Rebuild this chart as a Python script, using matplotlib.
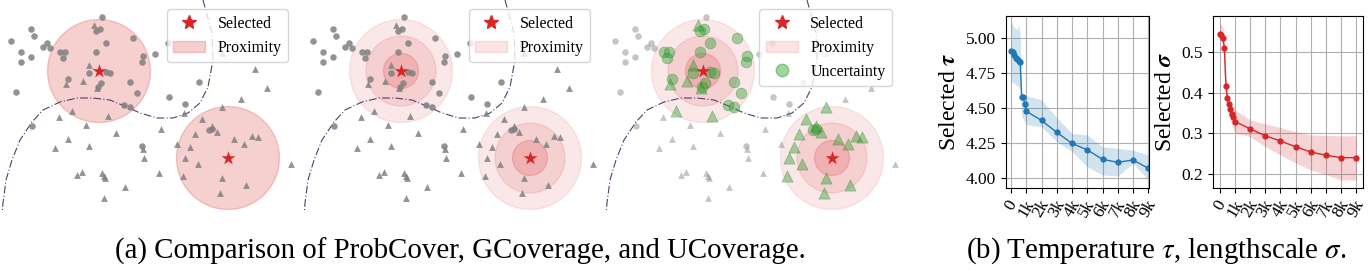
import numpy as np
import matplotlib
matplotlib.use("Agg")
import matplotlib.pyplot as plt
from matplotlib.patches import Circle, Patch
from matplotlib.lines import Line2D

plt.rcParams['font.family'] = ['Liberation Serif', 'DejaVu Serif']
plt.rcParams['mathtext.fontset'] = 'stix'

# toy 2D data (pixel-like coords, y grows downward)
circ_x = [102, 31, 34, 11, 21, 21, 31, 43, 47, 50, 60, 65, 63, 100, 96, 106, 96, 133, 143, 142,
          155, 168, 89, 106, 110, 101, 98, 68, 130, 137, 16, 124, 130, 169, 185, 199, 32, 142, 209, 212]
circ_y = [17, 29, 36, 41, 52, 62, 57, 47, 43, 48, 52, 52, 58, 29, 31, 43, 52, 38, 56, 62,
          54, 43, 73, 72, 73, 83, 87, 79, 82, 93, 92, 105, 107, 97, 104, 82, 126, 146, 130, 129]
tri_x = [89, 94, 66, 83, 59, 72, 86, 108, 116, 68, 55, 89, 77, 82, 102, 104, 105, 125, 104, 144,
         143, 159, 161, 177, 184, 222, 241, 255, 267, 222, 202, 195, 190, 185, 198, 183, 220, 222,
         234, 244, 252, 258, 246, 291, 212, 217, 97]
tri_y = [65, 25, 84, 81, 117, 111, 125, 116, 133, 139, 148, 146, 175, 172, 173, 176, 178, 187, 198, 158,
         149, 173, 129, 144, 113, 107, 99, 69, 88, 53, 119, 134, 147, 158, 164, 176, 193, 178,
         139, 144, 136, 137, 185, 164, 126, 132, 88]

sel_x = [99, 228]
sel_y = [71, 158]
radii = [51.5, 35, 17.5]

bound_x = [203, 212, 213, 208, 200, 188, 173, 157, 140, 127, 110, 93, 77, 60, 43, 32, 20, 12, 6, 3, 2]
bound_y = [0, 33, 60, 87, 103, 113, 118, 118, 113, 107, 100, 98, 98, 102, 110, 122, 140, 160, 180, 203, 215]

# hyperparameter curves
steps = [0, 100, 200, 300, 400, 500, 600, 700, 800, 900, 1000,
         2000, 3000, 4000, 5000, 6000, 7000, 8000, 9000]
tau_mean = [4.909, 4.900, 4.881, 4.862, 4.852, 4.840, 4.831, 4.579, 4.579, 4.531, 4.476,
            4.411, 4.325, 4.246, 4.199, 4.132, 4.110, 4.127, 4.067]
tau_hi = [5.119, 5.10, 5.08, 5.07, 5.06, 5.095, 5.036, 4.607, 4.60, 4.595, 4.588,
          4.56, 4.43, 4.318, 4.306, 4.222, 4.21, 4.198, 4.163]
tau_lo = [4.69, 4.685, 4.68, 4.67, 4.66, 4.654, 4.63, 4.44, 4.42, 4.40, 4.38,
          4.366, 4.258, 4.187, 4.079, 4.019, 4.012, 4.103, 3.983]
sig_mean = [0.545, 0.543, 0.536, 0.510, 0.417, 0.386, 0.371, 0.360, 0.348, 0.340, 0.329,
            0.311, 0.294, 0.281, 0.267, 0.254, 0.246, 0.240, 0.240]
sig_hi = [0.571, 0.568, 0.560, 0.540, 0.440, 0.410, 0.390, 0.380, 0.370, 0.365, 0.358,
          0.333, 0.323, 0.314, 0.304, 0.296, 0.295, 0.294, 0.294]
sig_lo = [0.530, 0.525, 0.515, 0.480, 0.395, 0.360, 0.345, 0.335, 0.320, 0.310, 0.300,
          0.292, 0.267, 0.247, 0.227, 0.210, 0.198, 0.185, 0.185]
xtick_vals = [0, 1000, 2000, 3000, 4000, 5000, 6000, 7000, 8000, 9000]
xtick_labels = ['0', '1k', '2k', '3k', '4k', '5k', '6k', '7k', '8k', '9k']

RED = '#d62728'
GREEN = '#2ca02c'
GRAY = '#808080'
W, H = 1369, 272

fig = plt.figure(figsize=(W / 100, H / 100), dpi=100)


def near_selected(px, py):
    px, py = np.asarray(px), np.asarray(py)
    d = np.min([np.hypot(px - sx, py - sy) for sx, sy in zip(sel_x, sel_y)], axis=0)
    return d < radii[0]


for k in range(3):
    ax = fig.add_axes([302 * k / W, (H - 210) / H, 300 / W, 210 / H])
    ax.set_xlim(0, 300)
    ax.set_ylim(210, 0)
    ax.axis('off')

    for sx, sy in zip(sel_x, sel_y):
        if k == 0:
            ax.add_patch(Circle((sx, sy), radii[0], facecolor=RED, alpha=0.22,
                                edgecolor=RED, lw=1, zorder=1))
        else:
            for r, a in zip(radii, [0.1, 0.12, 0.18]):
                ax.add_patch(Circle((sx, sy), r, facecolor=RED, alpha=a,
                                    edgecolor=RED, lw=1, zorder=1))

    ax.plot(bound_x, bound_y, color='#5a3a6e', lw=0.8, ls=(0, (7, 2, 1, 2)), zorder=2)

    if k < 2:
        ax.scatter(circ_x, circ_y, s=22, marker='o', color=GRAY, alpha=0.85, lw=0, zorder=3)
        ax.scatter(tri_x, tri_y, s=24, marker='^', color=GRAY, alpha=0.85, lw=0, zorder=3)
    else:
        mc = near_selected(circ_x, circ_y)
        mt = near_selected(tri_x, tri_y)
        cx, cy = np.array(circ_x), np.array(circ_y)
        tx, ty = np.array(tri_x), np.array(tri_y)
        ax.scatter(cx[~mc], cy[~mc], s=22, marker='o', color=GRAY, alpha=0.45, lw=0, zorder=3)
        ax.scatter(tx[~mt], ty[~mt], s=24, marker='^', color=GRAY, alpha=0.45, lw=0, zorder=3)
        ax.scatter(cx[mc], cy[mc], s=60, marker='o', color=GREEN, alpha=0.42,
                   edgecolor='#2a7a2a', lw=0.5, zorder=3)
        ax.scatter(tx[mt], ty[mt], s=65, marker='^', color=GREEN, alpha=0.42,
                   edgecolor='#2a7a2a', lw=0.5, zorder=3)

    ax.scatter(sel_x, sel_y, s=110, marker='*', color=RED, lw=0, zorder=5)

    handles = [Line2D([], [], marker='*', color=RED, ls='', markersize=10),
               Patch(facecolor=RED, alpha=0.22 if k == 0 else 0.12, edgecolor=RED)]
    labels = ['Selected', 'Proximity']
    if k == 2:
        handles.append(Line2D([], [], marker='o', color=GREEN, alpha=0.45, ls='', markersize=9))
        labels.append('Uncertainty')
    ax.legend(handles, labels, loc='upper right', bbox_to_anchor=(0.96, 0.955),
              borderaxespad=0, fontsize=11.5)


def hyper_plot(rect, mean, lo, hi, color, ylabel, xlim, ylim, yticks, ylabels):
    ax = fig.add_axes(rect)
    ax.fill_between(steps, lo, hi, color=color, alpha=0.2, lw=0)
    ax.plot(steps, mean, color=color, marker='o', markersize=3.5, lw=1)
    ax.set_xlim(*xlim)
    ax.set_ylim(*ylim)
    ax.set_xticks(xtick_vals)
    ax.set_xticklabels(xtick_labels, rotation=60, fontsize=12.5)
    ax.set_yticks(yticks)
    ax.set_yticklabels(ylabels, fontsize=12.5)
    ax.set_ylabel(ylabel, fontsize=17)
    ax.grid(True, color='#b0b0b0', lw=0.8)
    ax.set_axisbelow(True)
    return ax


hyper_plot([1005.7 / W, (H - 187.7) / H, 143.3 / W, 171.7 / H], tau_mean, tau_lo, tau_hi,
           '#1f77b4', r'Selected $\boldsymbol{\tau}$', (-350, 9050), (3.928, 5.16),
           [4.0, 4.25, 4.5, 4.75, 5.0], ['4.00', '4.25', '4.50', '4.75', '5.00'])
hyper_plot([1213 / W, (H - 187.7) / H, 150 / W, 171.7 / H], sig_mean, sig_lo, sig_hi,
           RED, r'Selected $\boldsymbol{\sigma}$', (-450, 9450), (0.166, 0.589),
           [0.2, 0.3, 0.4, 0.5], ['0.2', '0.3', '0.4', '0.5'])

fig.text(460 / W, 1 - 251 / H, '(a) Comparison of ProbCover, GCoverage, and UCoverage.',
         ha='center', va='center', fontsize=20.8)
fig.text(1156 / W, 1 - 251 / H, r'(b) Temperature $\tau$, lengthscale $\sigma$.',
         ha='center', va='center', fontsize=20.8)

fig.savefig('out.png', dpi=100)
